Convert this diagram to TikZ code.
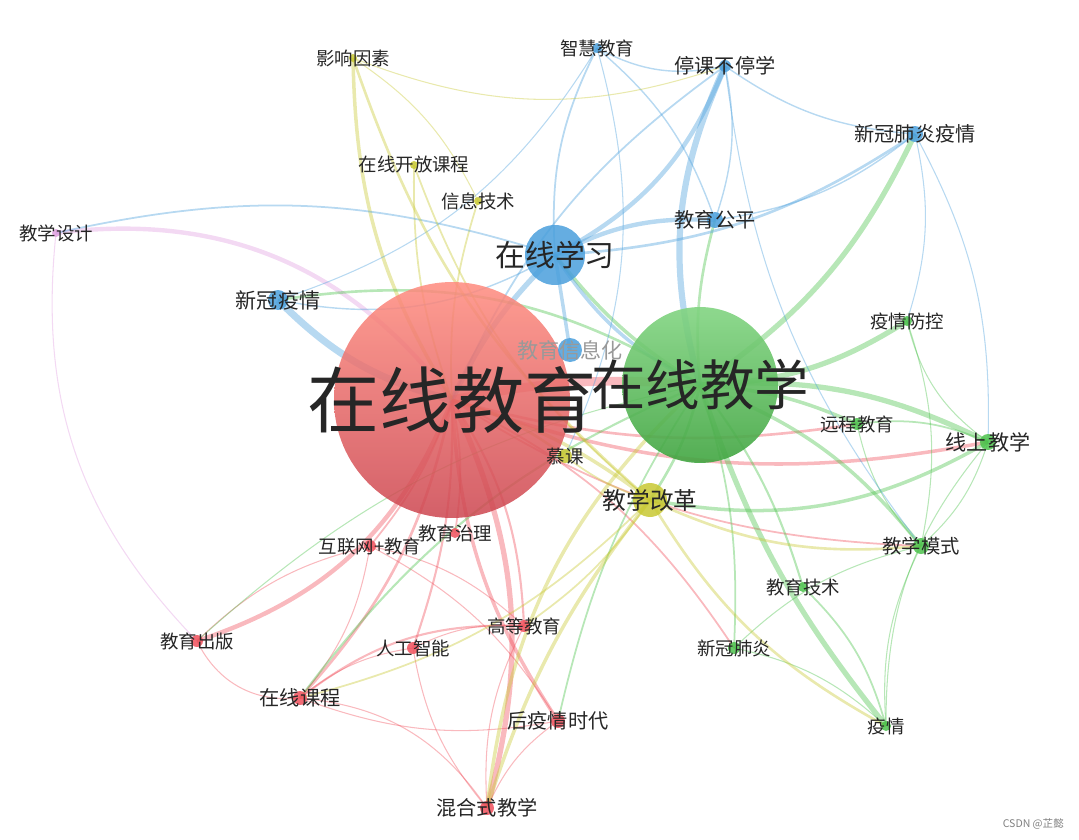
\documentclass[tikz,border=0pt]{standalone}
\usepackage{fontspec}
\setmainfont{Noto Sans CJK SC}
\definecolor{cr}{HTML}{F0505C}
\definecolor{cg}{HTML}{4CC24C}
\definecolor{cb}{HTML}{4A9FDC}
\definecolor{cy}{HTML}{C8C832}
\definecolor{cp}{HTML}{E0A0E0}
\begin{document}
\begin{tikzpicture}[x=0.02cm,y=-0.02cm,
  dot/.style={circle,inner sep=0pt,minimum size=#1*0.04cm,fill opacity=.85},
  lab/.style={text=black!85,inner sep=0pt},
  e/.style={opacity=.4}]
\useasboundingbox (0,0) rectangle (1079,839);
\foreach \n/\x/\y in {jy/452/400,jx/700/385,xx/555/255,gg/650/500,xxh/570/350,zh/597/48,tk/725/66,xgfy/915/134,gp/715/220,xgyq/278/300,yx/353/58,kf/414/165,xj/478/201,sj/56/233,fk/907/321,yc/857/424,xs/988/442,ms/921/546,js/803/587,fy/734/648,yq/886/726,mk/565/456,zl/455/533,hl/370/546,cb/197/641,rg/413/648,gd/524/626,kc/300/698,hy/558/721,hh/487/808}
  \coordinate (\n) at (\x,\y);
% edges
\foreach \a/\b/\c/\w/\bd in {
 jy/hh/cr/3/20, jy/cb/cr/2.5/25, jy/kc/cr/1.5/15, jy/hy/cr/2/-15, jy/gd/cr/1.2/15, jy/rg/cr/1.2/10,
 jy/hl/cr/1/10, jy/zl/cr/1/10, jy/sj/cp/2.5/-30, jy/xgyq/cb/4/15, jy/xx/cb/3/10, jy/jx/cr/5/8,
 jy/gg/cy/2/10, jy/mk/cy/1.5/10, jy/yx/cy/2/15, jy/kf/cy/1/10, jy/xj/cy/1/10, jy/xs/cr/2/-15,
 jy/yc/cr/1.5/-12, jy/tk/cb/1/15, jy/fy/cr/1/15, jy/ms/cr/1/-15,
 cb/kc/cr/.6/-35, kc/hh/cr/.6/25, kc/gd/cr/1.2/20, kc/hy/cr/.6/-15, rg/gd/cr/.6/15, hl/gd/cr/.6/15,
 hh/gd/cr/.6/15, hh/hy/cr/.6/15, kc/rg/cr/.6/15, cb/hl/cr/.6/15, hl/kc/cr/.6/15, rg/hh/cr/.6/-15, hl/hy/cr/.6/15, cb/sj/cp/.6/25,
 jx/fk/cg/3/-15, jx/yc/cg/2/10, jx/xs/cg/3/15, jx/ms/cg/2/15, jx/js/cg/1.2/10, jx/fy/cg/1/10,
 jx/yq/cg/3/-10, jx/xgfy/cg/3/-15, jx/tk/cb/3.5/20, jx/gp/cg/1.5/10, jx/xx/cg/2/10, jx/gg/cg/1.5/10,
 jx/hh/cy/2/-20, jx/kc/cg/1.2/-15, jx/hy/cg/1/-10, jx/cb/cg/.6/-15, jx/xgyq/cg/1.5/-20,
 fk/xs/cg/.6/-20, yc/xs/cg/1/15, xs/ms/cg/.6/15, ms/yq/cg/.6/-15, fk/ms/cg/.6/15, js/yq/cg/1/15,
 fy/ms/cg/.6/15, ms/yc/cg/.6/15, fy/yq/cg/.6/15, xs/yq/cg/.6/-20, gg/xs/cg/2/-20,
 xx/tk/cb/2.5/-20, xx/zh/cb/1/15, xx/xgfy/cb/1.5/-15, xx/gp/cb/2.5/15, xx/xgyq/cb/.8/20, xx/xxh/cb/2/0,
 tk/xgfy/cb/.8/-15, tk/gp/cb/.8/15, zh/tk/cb/.8/-20, zh/gp/cb/.8/15, gp/xgfy/cb/.8/-15, xgfy/fk/cb/.6/15,
 xgfy/xs/cb/.6/15, tk/ms/cb/.6/-15, xx/sj/cb/1/-15, zh/xgyq/cb/.6/20, zh/mk/cb/.6/20, xx/jx/cb/2/-15,
 gg/yx/cy/1.5/15, gg/hh/cy/2/-10, gg/kf/cy/1/15, gg/yq/cy/1.5/-15, gg/mk/cy/1/10, gg/ms/cy/1.5/-15,
 yx/xj/cy/.6/15, yx/tk/cy/.6/-20, gg/kc/cy/1/15, gg/gd/cy/1/10}
 \draw[e,\c,line width=\w pt] (\a) to[bend left=\bd] (\b);
% nodes
\node[dot=118,top color=red!45!white!90!orange,bottom color=cr!85!black,fill opacity=.85] (jyn) at (jy) {};
\node[dot=78,top color=cg!70!white,bottom color=cg!85!black,fill opacity=.9] (jxn) at (jx) {};
\node[dot=30,fill=cb] (xxn) at (xx) {};
\node[dot=17,fill=cy] (ggn) at (gg) {};
\node[dot=12,fill=cb] (xxhn) at (xxh) {};
\foreach \n/\r/\c in {zh/5/cb,tk/6/cb,xgfy/8/cb,gp/8/cb,xgyq/10/cb,yx/4/cy,kf/4/cy,xj/4/cy,sj/4/cp,fk/5/cg,yc/6/cg,xs/8/cg,ms/8/cg,js/5/cg,fy/6/cg,yq/5/cg,mk/7/cy,zl/5/cr,hl/6/cr,cb/6/cr,rg/6/cr,gd/6/cr,kc/7/cr,hy/7/cr,hh/7/cr}
 \node[dot=\r,fill=\c] (\n n) at (\n) {};
% labels
\node[lab,font=\fontsize{41}{41}\selectfont] (jyt) at (jy) {在线教育};
\node[lab,font=\fontsize{31}{31}\selectfont] (jxt) at (jx) {在线教学};
\node[lab,font=\fontsize{17}{17}\selectfont] (xxt) at (xx) {在线学习};
\node[lab,font=\fontsize{13.5}{13.5}\selectfont] (ggt) at (gg) {教学改革};
\node[lab,text=black!40,font=\fontsize{12}{12}\selectfont] (xxht) at (xxh) {教育信息化};
\foreach \n/\t/\s in {zh/智慧教育/10.5,tk/停课不停学/11.5,xgfy/新冠肺炎疫情/11.5,gp/教育公平/11.5,xgyq/新冠疫情/12,yx/影响因素/10.5,kf/在线开放课程/10.5,xj/信息技术/10.5,sj/教学设计/10.5,fk/疫情防控/10.5,yc/远程教育/10.5,xs/线上教学/12,ms/教学模式/11,js/教育技术/10.5,fy/新冠肺炎/10.5,yq/疫情/10.5,mk/慕课/10.5,zl/教育治理/10.5,hl/互联网+教育/10.5,cb/教育出版/10.5,rg/人工智能/10.5,gd/高等教育/10.5,kc/在线课程/11.5,hy/后疫情时代/11.5,hh/混合式教学/11.5}
 \node[lab,font=\fontsize{\s}{\s}\selectfont] (\n t) at (\n) {\t};
\node[text=black!50,font=\fontsize{6}{6}\selectfont,anchor=east] (wm) at (1070,824) {CSDN @芷懿};
\end{tikzpicture}
\end{document}
